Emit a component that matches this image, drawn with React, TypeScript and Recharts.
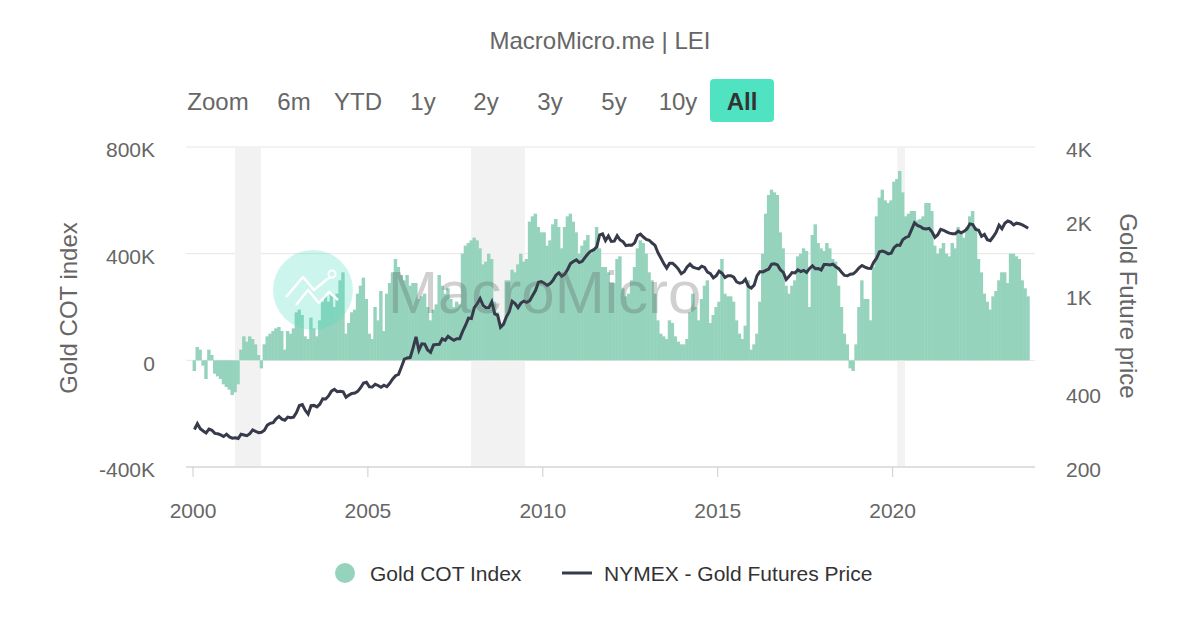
import React from "react"
import { ComposedChart, Bar, Line, XAxis, YAxis, CartesianGrid, ReferenceArea } from "recharts"

const START_YEAR = 2000

// Gold COT index, monthly, thousands of contracts (Jan 2000 - Nov 2023)
const cotIndexK = [
  -40, 50, 40, -20, -70, 40, 20, -50, -60, -70, -90, -100,
  -110, -130, -120, -90, 40, 90, 70, 90, 80, 60, 20, -30,
  60, 90, 100, 110, 120, 125, 110, 40, 110, 100, 120, 180,
  190, 170, 90, 80, 160, 120, 90, 150, 220, 240, 220, 250,
  200, 250, 300, 330, 100, 140, 180, 190, 250, 280, 310, 230,
  100, 80, 200, 150, 260, 110, 250, 290, 330, 380, 350, 320,
  300, 320, 280, 290, 290, 230, 240, 250, 200, 150, 190, 210,
  320, 280, 250, 270, 230, 200, 220, 210, 400, 430, 440, 450,
  460, 450, 420, 360, 370, 400, 380, 220, 180, 130, 140, 300,
  300, 340, 330, 360, 400, 370, 380, 520, 540, 550, 500, 480,
  480, 430, 450, 510, 530, 500, 420, 500, 540, 550, 520, 480,
  400, 430, 450, 470, 400, 420, 500, 420, 350, 350, 330, 290,
  290, 380, 390, 270, 240, 250, 300, 350, 420, 450, 440, 400,
  330, 300, 250, 150, 100, 90, 80, 150, 140, 90, 70, 60,
  60, 80, 180, 250, 200, 150, 230, 280, 300, 140, 170, 200,
  220, 380, 250, 240, 240, 220, 150, 100, 80, 130, 300, 40,
  60, 100, 220, 400, 550, 620, 640, 630, 620, 480, 420, 280,
  250, 280, 300, 390, 400, 420, 410, 200, 470, 510, 440, 420,
  410, 440, 420, 380, 370, 280, 200, 100, 60, -30, -40, 60,
  200, 300, 230, 230, 150, 350, 540, 610, 640, 600, 590, 600,
  670, 680, 710, 630, 540, 550, 560, 560, 525, 530, 540, 590,
  590, 560, 430, 400, 420, 440, 400, 390, 440, 420, 500, 480,
  460, 500, 540, 560, 500, 380, 330, 250, 220, 190, 240, 260,
  300, 330, 330, 290, 400, 400, 390, 380, 300, 270, 240,
]

// NYMEX gold futures, monthly, USD/oz
const goldPrice = [
  284, 300, 286, 280, 275, 285, 282, 274, 273, 270, 266, 272,
  265, 262, 263, 261, 272, 270, 268, 273, 283, 279, 276, 277,
  282, 296, 301, 303, 314, 321, 313, 310, 319, 317, 319, 333,
  356, 359, 340, 328, 355, 356, 351, 360, 379, 378, 389, 407,
  414, 405, 406, 404, 384, 392, 398, 400, 406, 420, 439, 442,
  424, 423, 434, 429, 422, 430, 424, 438, 456, 470, 476, 510,
  549, 555, 557, 610, 676, 596, 633, 632, 598, 585, 627, 629,
  631, 664, 655, 679, 666, 655, 665, 665, 712, 754, 806, 803,
  889, 922, 968, 909, 888, 889, 939, 839, 829, 740, 760, 816,
  858, 943, 924, 890, 928, 945, 934, 949, 996, 1043, 1127, 1134,
  1118, 1095, 1113, 1148, 1205, 1232, 1193, 1215, 1271, 1343, 1370, 1391,
  1356, 1372, 1424, 1473, 1510, 1528, 1572, 1756, 1772, 1665, 1739, 1652,
  1656, 1743, 1675, 1649, 1589, 1598, 1594, 1630, 1745, 1770, 1722, 1685,
  1671, 1628, 1593, 1487, 1414, 1343, 1287, 1347, 1348, 1316, 1275, 1221,
  1244, 1300, 1336, 1299, 1287, 1279, 1311, 1296, 1239, 1222, 1176, 1200,
  1251, 1227, 1179, 1198, 1199, 1182, 1131, 1117, 1125, 1159, 1086, 1068,
  1097, 1200, 1246, 1242, 1260, 1276, 1337, 1340, 1326, 1267, 1236, 1157,
  1192, 1234, 1231, 1266, 1246, 1260, 1236, 1283, 1314, 1279, 1282, 1265,
  1331, 1331, 1325, 1335, 1304, 1281, 1237, 1202, 1198, 1215, 1220, 1250,
  1292, 1320, 1300, 1286, 1284, 1359, 1413, 1500, 1510, 1495, 1471, 1480,
  1560, 1597, 1592, 1680, 1715, 1732, 1846, 1968, 1921, 1900, 1866, 1858,
  1867, 1808, 1718, 1760, 1850, 1834, 1807, 1785, 1775, 1777, 1820, 1790,
  1816, 1856, 1948, 1937, 1848, 1836, 1733, 1764, 1680, 1665, 1726, 1798,
  1925, 1860, 1960, 2000, 1980, 1930, 1960, 1950, 1930, 1900, 1870,
]

const recessions = [
  [2001.2, 2001.94],
  [2007.95, 2009.49],
  [2020.13, 2020.35],
]

const xTicks = [2000, 2005, 2010, 2015, 2020]
const cotTicks = [-400000, 0, 400000, 800000]
const priceTicks = [200, 400, 1000, 2000, 4000]
const rangeButtons = [
  { label: "Zoom", x: 218 },
  { label: "6m", x: 294 },
  { label: "YTD", x: 358 },
  { label: "1y", x: 423 },
  { label: "2y", x: 486 },
  { label: "3y", x: 550 },
  { label: "5y", x: 614 },
  { label: "10y", x: 678 },
]

const data = cotIndexK.map((v, i) => ({
  t: START_YEAR + (i + 0.5) / 12,
  cot: v * 1000,
  gold: goldPrice[i],
}))

const FONT = '"Liberation Sans", Arial, Helvetica, sans-serif'
const GREEN = "#95d3bd"
const DARK = "#363a4a"

function fmtCot(v: number) {
  if (v === 0) return "0"
  return `${v / 1000}K`
}

function fmtPrice(v: number) {
  return v >= 1000 ? `${v / 1000}K` : `${v}`
}

const XTick = (p: any) => (
  <text x={p.x} y={p.y} dy="0.71em" textAnchor="middle" fill="#666" fontSize={21} fontFamily={FONT}>
    {p.payload.value}
  </text>
)

const LeftTick = (p: any) => (
  <text x={p.x} y={p.y + 3} dy="0.35em" textAnchor="end" fill="#666" fontSize={21} fontFamily={FONT}>
    {fmtCot(p.payload.value)}
  </text>
)

const RightTick = (p: any) => (
  <text x={p.x} y={p.y + 3} dy="0.35em" textAnchor="start" fill="#666" fontSize={21} fontFamily={FONT}>
    {fmtPrice(p.payload.value)}
  </text>
)

// columns sit edge to edge, like the dense weekly columns of the original
const SolidColumn = (p: any) => {
  const top = Math.min(p.y, p.y + p.height)
  const h = Math.abs(p.height)
  return <rect x={p.x - 0.4} y={top} width={p.width + 0.8} height={h} fill={GREEN} />
}

export default function App() {
  return (
    <div style={{ position: "absolute", left: 0, top: 0, width: 1200, height: 630, background: "#fff", fontFamily: FONT }}>
      <ComposedChart
        width={1200}
        height={630}
        data={data}
        margin={{ top: 147, right: 65, bottom: 113, left: 86 }}
      >
        <CartesianGrid yAxisId="left" vertical={false} stroke="#e6e6e6" />
        {recessions.map(([a, b], i) => (
          <ReferenceArea key={i} yAxisId="left" x1={a} x2={b} fill="#f2f2f2" fillOpacity={1} stroke="none" ifOverflow="hidden" />
        ))}
        <XAxis
          dataKey="t"
          type="number"
          domain={[1999.8, 2024.07]}
          ticks={xTicks}
          allowDataOverflow
          height={50}
          stroke="#ccc"
          tickSize={10}
          tickMargin={26}
          tick={XTick}
        />
        <YAxis
          yAxisId="left"
          domain={[-400000, 800000]}
          ticks={cotTicks}
          allowDataOverflow
          width={100}
          axisLine={false}
          tickLine={false}
          tickSize={0}
          tickMargin={31}
          tick={LeftTick}
        />
        <YAxis
          yAxisId="right"
          orientation="right"
          scale="log"
          domain={[200, 4000]}
          ticks={priceTicks}
          allowDataOverflow
          width={100}
          axisLine={false}
          tickLine={false}
          tickSize={0}
          tickMargin={31}
          tick={RightTick}
        />
        <Bar yAxisId="left" dataKey="cot" fill={GREEN} barSize={3} shape={SolidColumn} isAnimationActive={false} />
        <Line yAxisId="right" dataKey="gold" stroke={DARK} strokeWidth={3} dot={false} type="linear" isAnimationActive={false} />
      </ComposedChart>

      <svg width={1200} height={630} style={{ position: "absolute", left: 0, top: 0, pointerEvents: "none" }} fontFamily={FONT}>
        {/* watermark */}
        <circle cx={313} cy={290} r={40} fill="rgba(72, 222, 190, 0.28)" />
        <polyline points="286,297 303,277 314,290 326,280 331,277" fill="none" stroke="#fff" strokeWidth={2.5} strokeLinejoin="round" />
        <polyline points="296,305 308,290 319,303 329,292 338,300" fill="none" stroke="#fff" strokeWidth={2.5} strokeLinejoin="round" />
        <circle cx={332} cy={274} r={3.5} fill="none" stroke="#fff" strokeWidth={2} />
        <text x={388} y={313} fontSize={60} fill="#555" fillOpacity={0.28}>MacroMicro</text>

        <text x={600} y={40} textAnchor="middle" dominantBaseline="central" fontSize={24} fill="#666">MacroMicro.me | LEI</text>

        {rangeButtons.map(b => (
          <text key={b.label} x={b.x} y={101} textAnchor="middle" dominantBaseline="central" fontSize={24} fill="#666">{b.label}</text>
        ))}
        <rect x={710} y={79} width={64} height={43} rx={4} fill="#4fe3c1" />
        <text x={742} y={101} textAnchor="middle" dominantBaseline="central" fontSize={24} fontWeight="bold" fill="#333">All</text>

        <text transform="translate(68,308) rotate(-90)" textAnchor="middle" dominantBaseline="central" fontSize={24} fill="#666">Gold COT index</text>
        <text transform="translate(1128,306) rotate(90)" textAnchor="middle" dominantBaseline="central" fontSize={24} fill="#666">Gold Future price</text>

        <circle cx={345} cy={573} r={10} fill={GREEN} />
        <text x={370} y={573} dominantBaseline="central" fontSize={21} fill="#333">Gold COT Index</text>
        <line x1={562} y1={573} x2={592} y2={573} stroke={DARK} strokeWidth={3} />
        <text x={604} y={573} dominantBaseline="central" fontSize={21} fill="#333">NYMEX - Gold Futures Price</text>
      </svg>
    </div>
  )
}
